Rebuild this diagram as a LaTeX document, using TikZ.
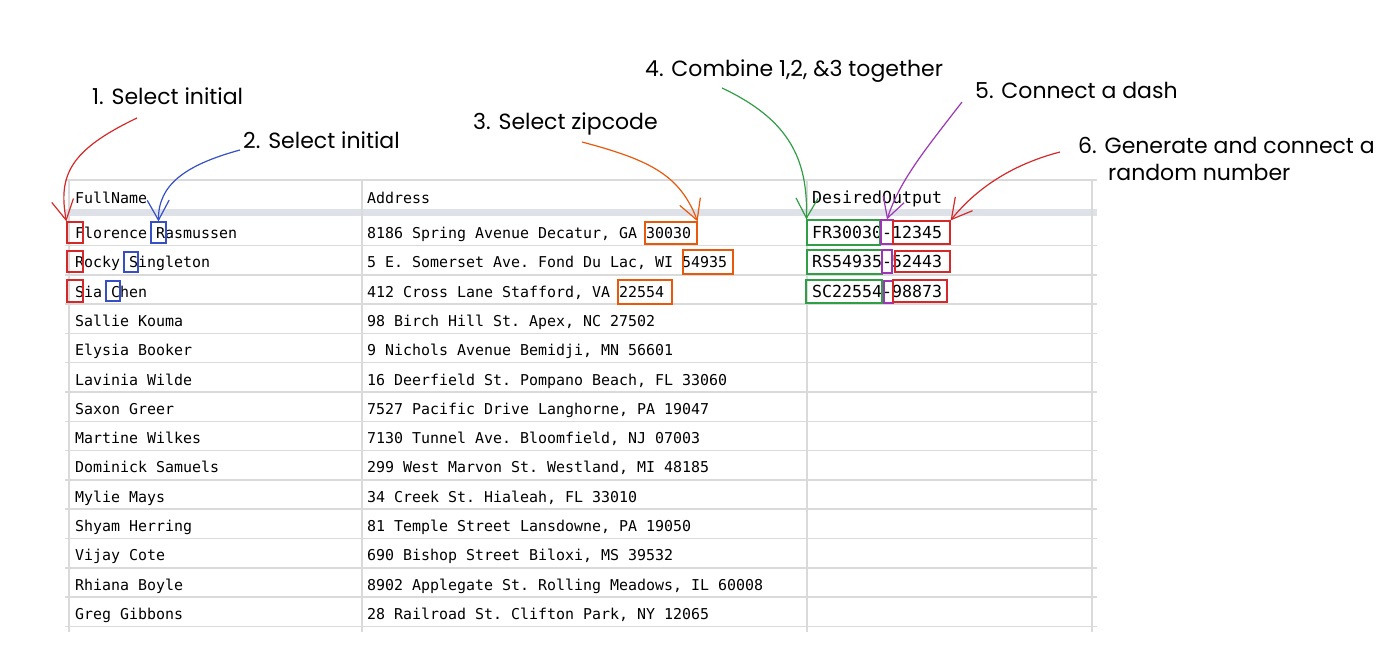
\documentclass[tikz,border=0pt]{standalone}
\usepackage{fontspec}
\setmainfont{Poppins}
\setmonofont{DejaVu Sans Mono}
\usetikzlibrary{fit,arrows.meta,positioning}

\definecolor{cred}{RGB}{214,40,40}
\definecolor{cblue}{RGB}{54,79,199}
\definecolor{corange}{RGB}{232,89,12}
\definecolor{cgreen}{RGB}{47,158,68}
\definecolor{cpurple}{RGB}{156,54,181}
\definecolor{gridgray}{RGB}{218,218,218}
\definecolor{bandgray}{RGB}{222,226,232}

\begin{document}
\begin{tikzpicture}[
  x=1pt, y=-1pt,
  cell/.style={anchor=base west, inner sep=0pt, font=\ttfamily\fontsize{14.95}{18}\selectfont},
  outcell/.style={anchor=base west, inner sep=0pt, font=\ttfamily\fontsize{16.6}{20}\selectfont},
  note/.style={anchor=west, inner sep=0pt, font=\fontsize{22}{26}\selectfont},
  pick/.style={draw=#1, line width=1.2pt, inner sep=0pt, rectangle},
  hint/.style={draw=#1, line width=1.2pt, -{Straight Barb[length=20pt,width=22pt]}},
  gridline/.style={draw=gridgray, line width=1.5pt}
]
\useasboundingbox (0,0) rectangle (1400,652);

% table grid
\fill[bandgray] (65,209) rectangle (1097,216);
\draw[gridline] (65,180) -- (1097,180);
\foreach \k in {0,...,13}
  \draw[gridline] (65,{245.5+29.3*\k}) -- (1097,{245.5+29.3*\k});
\foreach \x in {69,362,807,1092}
  \draw[gridline] (\x,180) -- (\x,632);

% header
\node[cell] (hname) at (75,203.5) {FullName};
\node[cell] (haddr) at (367,203.5) {Address};
\node[outcell] (hout) at (812,203.5) {DesiredOutput};

% rows
\foreach \nm/\ad [count=\k from 0] in {
  Florence Rasmussen/{8186 Spring Avenue Decatur, GA 30030},
  Rocky Singleton/{5 E. Somerset Ave. Fond Du Lac, WI 54935},
  Sia Chen/{412 Cross Lane Stafford, VA 22554},
  Sallie Kouma/{98 Birch Hill St. Apex, NC 27502},
  Elysia Booker/{9 Nichols Avenue Bemidji, MN 56601},
  Lavinia Wilde/{16 Deerfield St. Pompano Beach, FL 33060},
  Saxon Greer/{7527 Pacific Drive Langhorne, PA 19047},
  Martine Wilkes/{7130 Tunnel Ave. Bloomfield, NJ 07003},
  Dominick Samuels/{299 West Marvon St. Westland, MI 48185},
  Mylie Mays/{34 Creek St. Hialeah, FL 33010},
  Shyam Herring/{81 Temple Street Lansdowne, PA 19050},
  Vijay Cote/{690 Bishop Street Biloxi, MS 39532},
  Rhiana Boyle/{8902 Applegate St. Rolling Meadows, IL 60008},
  Greg Gibbons/{28 Railroad St. Clifton Park, NY 12065}} {
  \node[cell] (name\k) at (75,{238.5+29.3*\k}) {\nm};
  \node[cell] (addr\k) at (367,{238.5+29.3*\k}) {\ad};
}
\node[outcell] (out0) at (812,238.5) {FR30030-12345};
\node[outcell] (out1) at (812,267.8) {RS54935-52443};
\node[outcell] (out2) at (812,297.1) {SC22554-98873};

% selection boxes
\node[pick=cred, fit={(67,222)(83,243)}] (ini1a) {};
\node[pick=cred, fit={(67,251)(83,272)}] (ini1b) {};
\node[pick=cred, fit={(67,280)(83,302)}] (ini1c) {};
\node[pick=cblue, fit={(151,222)(166,243)}] (ini2a) {};
\node[pick=cblue, fit={(124,252)(138,272)}] (ini2b) {};
\node[pick=cblue, fit={(106,281)(120,301)}] (ini2c) {};
\node[pick=corange, fit={(645,222)(697,244)}] (zipa) {};
\node[pick=corange, fit={(683,250)(733,274)}] (zipb) {};
\node[pick=corange, fit={(618,280)(672,304)}] (zipc) {};
\node[pick=cgreen, fit={(807,220)(880,245)}] (joina) {};
\node[pick=cgreen, fit={(807,250)(882,274)}] (joinb) {};
\node[pick=cgreen, fit={(806,280)(882,303)}] (joinc) {};
\node[pick=cpurple, fit={(881,220)(893,244)}] (dasha) {};
\node[pick=cpurple, fit={(882,250)(892,273)}] (dashb) {};
\node[pick=cpurple, fit={(884,281)(893,303)}] (dashc) {};
\node[pick=cred, fit={(893,221)(950,244)}] (randa) {};
\node[pick=cred, fit={(895,251)(950,272)}] (randb) {};
\node[pick=cred, fit={(893,280)(947,302)}] (randc) {};

% notes
\node[note] (note1) at (92,96) {1. Select initial};
\node[note] (note2) at (243,140) {2. Select initial};
\node[note] (note3) at (473,124) {3. Select zipcode};
\node[note] (note4) at (645,71) {4. Combine 1,2, \&3 together};
\node[note] (note5) at (975,90) {5. Connect a dash};
\node[note] (note6) at (1078,145) {6. Generate and connect a};
\node[note] (note6b) at (1108,172) {random number};

% arrow tails
\coordinate (from1) at (137,118);
\coordinate (from2) at (240,150);
\coordinate (from3) at (582,142);
\coordinate (from4) at (722,88);
\coordinate (from5) at (962,102);
\coordinate (from6) at (1060,152);

\draw[hint=cred] (from1) .. controls (70,150) and (58,175) .. (ini1a.north west);
\draw[hint=cblue] (from2) .. controls (185,165) and (158,185) .. (ini2a.north);
\draw[hint=corange] (from3) .. controls (650,160) and (680,175) .. (zipa.north east);
\draw[hint=cgreen] (from4) .. controls (790,120) and (808,160) .. (joina.north west);
\draw[hint=cpurple] (from5) .. controls (925,150) and (900,180) .. (dasha.north);
\draw[hint=cred] (from6) .. controls (1010,165) and (975,190) .. (randa.north east);
\end{tikzpicture}
\end{document}
